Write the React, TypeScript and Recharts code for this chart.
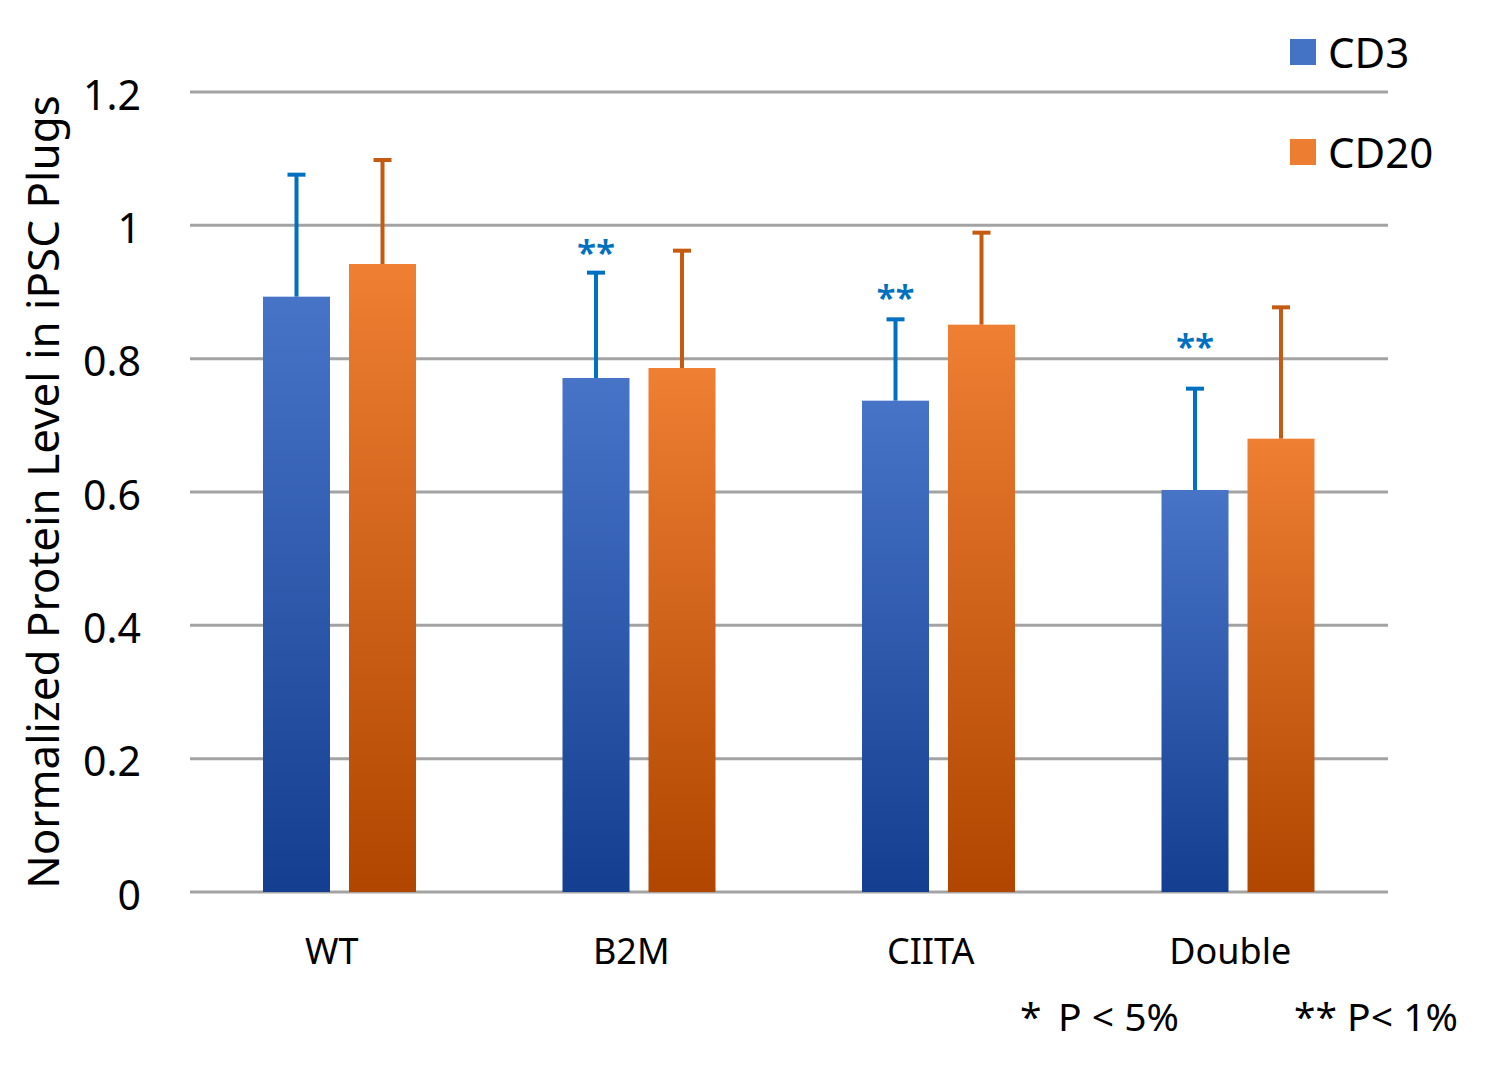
import React from 'react';
import { BarChart, Bar, XAxis, YAxis, CartesianGrid, Legend } from 'recharts';

const categories = ['WT', 'B2M', 'CIITA', 'Double'];
const cd3Values = [0.893, 0.771, 0.737, 0.603];
const cd20Values = [0.942, 0.786, 0.851, 0.68];
const cd3Errors = [0.183, 0.158, 0.122, 0.152];
const cd20Errors = [0.156, 0.176, 0.138, 0.197];
// vertical position (in data units) of the "**" significance marks above CD3 bars
const cd3Stars: (number | null)[] = [null, 0.969, 0.902, 0.828];
const yTicks = [0, 0.2, 0.4, 0.6, 0.8, 1, 1.2];
const seriesNames = ['CD3', 'CD20'];
const footnotes = ['*', 'P < 5%', '** P< 1%'];

const data = categories.map((c, i) => ({
  category: c,
  CD3: cd3Values[i],
  CD20: cd20Values[i],
  cd3Err: cd3Errors[i],
  cd20Err: cd20Errors[i],
  star: cd3Stars[i],
}));

const FONT = "'Noto Sans', sans-serif";

const makeShape =
  (grad: string, errColor: string, valKey: string, errKey: string, withStar: boolean) =>
  (props: any) => {
    const { x, y, width, height, payload } = props;
    const v = payload[valKey];
    const ppu = v ? height / v : 0;
    const cx = x + width / 2;
    const errTop = y - payload[errKey] * ppu;
    const base = y + height;
    const star = payload.star;
    return (
      <g>
        <rect x={x} y={y} width={width} height={height} fill={`url(#${grad})`} />
        <line x1={cx} x2={cx} y1={y} y2={errTop} stroke={errColor} strokeWidth={4} />
        <line x1={cx - 9} x2={cx + 9} y1={errTop} y2={errTop} stroke={errColor} strokeWidth={4} />
        {withStar && star != null ? (
          <text
            x={cx}
            y={base - star * ppu + 19}
            textAnchor="middle"
            fill="#0070C0"
            fontSize={35}
            fontWeight={600}
            fontFamily={FONT}
          >
            **
          </text>
        ) : null}
      </g>
    );
  };

const cd3Shape = makeShape('gradBlue', '#0070C0', 'CD3', 'cd3Err', true);
const cd20Shape = makeShape('gradOrange', '#C55A11', 'CD20', 'cd20Err', false);

const LegendContent = () => (
  <div style={{ position: 'relative', width: 200, height: 160, fontFamily: FONT }}>
    {seriesNames.map((n, i) => (
      <div
        key={n}
        style={{
          position: 'absolute',
          left: 0,
          top: i * 100,
          height: 26,
          display: 'flex',
          alignItems: 'center',
        }}
      >
        <div style={{ width: 26, height: 26, background: i === 0 ? '#4472C4' : '#ED7D31' }} />
        <span style={{ marginLeft: 12, fontSize: 42, lineHeight: '26px', color: '#000' }}>{n}</span>
      </div>
    ))}
  </div>
);

const YLabel = (props: any) => {
  const vb = props.viewBox || { x: 0, y: 84, width: 182, height: 800 };
  const cx = 34;
  const cy = vb.y + vb.height / 2;
  return (
    <text
      x={cx}
      y={cy}
      transform={`rotate(-90, ${cx}, ${cy})`}
      textAnchor="middle"
      dominantBaseline="central"
      fontSize={44}
      fill="#000"
      fontFamily={FONT}
    >
      Normalized Protein Level in iPSC Plugs
    </text>
  );
};

export default function App() {
  return (
    <div style={{ position: 'relative', width: 1484, height: 1053, fontFamily: FONT, background: '#fff' }}>
      <BarChart
        width={1484}
        height={1053}
        data={data}
        margin={{ top: 84, right: 104, left: 0, bottom: 69 }}
        barSize={67}
        barGap={19}
      >
        <defs>
          <linearGradient id="gradBlue" x1="0" y1="0" x2="0" y2="1">
            <stop offset="0%" stopColor="#4874C8" />
            <stop offset="100%" stopColor="#143F90" />
          </linearGradient>
          <linearGradient id="gradOrange" x1="0" y1="0" x2="0" y2="1">
            <stop offset="0%" stopColor="#EE7F33" />
            <stop offset="100%" stopColor="#B04600" />
          </linearGradient>
        </defs>
        <CartesianGrid horizontal vertical={false} stroke="#A3A3A3" strokeWidth={3} />
        <XAxis
          dataKey="category"
          axisLine={false}
          tickLine={false}
          tickSize={0}
          tickMargin={46}
          height={100}
          interval={0}
          tick={{ fill: '#000', fontSize: 36, fontFamily: FONT, dx: -8 }}
        />
        <YAxis
          domain={[0, 1.2]}
          ticks={yTicks}
          interval={0}
          axisLine={false}
          tickLine={false}
          tickSize={0}
          tickMargin={49}
          width={182}
          tick={{ fill: '#000', fontSize: 41, fontFamily: FONT, dy: 3 }}
          label={(p: any) => <YLabel {...p} />}
        />
        <Legend
          layout="vertical"
          align="center"
          verticalAlign="middle"
          content={() => <LegendContent />}
          wrapperStyle={{ left: 1282, top: 31, width: 200, height: 160 }}
        />
        <Bar dataKey="CD3" name="CD3" shape={cd3Shape} isAnimationActive={false} />
        <Bar dataKey="CD20" name="CD20" shape={cd20Shape} isAnimationActive={false} />
      </BarChart>
      <svg
        width={1484}
        height={1053}
        style={{ position: 'absolute', left: 0, top: 0, pointerEvents: 'none' }}
      >
        <text x={1012} y={1023} fontSize={39} fill="#000" fontFamily={FONT}>
          {footnotes[0]}
        </text>
        <text x={1050} y={1023} fontSize={39} fill="#000" fontFamily={FONT}>
          {footnotes[1]}
        </text>
        <text x={1286} y={1023} fontSize={39} fill="#000" fontFamily={FONT}>
          {footnotes[2]}
        </text>
      </svg>
    </div>
  );
}
